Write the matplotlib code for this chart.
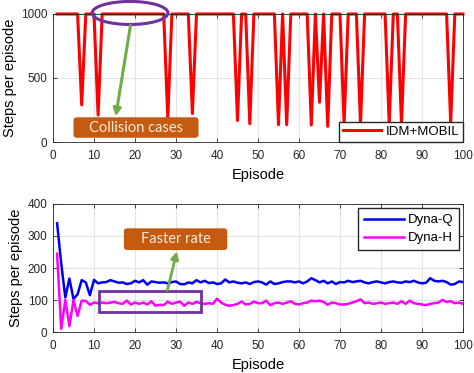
import numpy as np
import matplotlib
matplotlib.use("Agg")
import matplotlib.pyplot as plt
from matplotlib.patches import Ellipse, FancyBboxPatch, Rectangle

plt.rcParams["font.family"] = ["Liberation Sans", "DejaVu Sans"]

# top panel: IDM+MOBIL, 1000 steps unless a collision ends the episode
episodes = list(range(1, 101))
idm_mobil = [
    1000, 1000, 1000, 1000, 1000, 1000, 290, 1000, 1000, 1000,
    210, 1000, 1000, 1000, 1000, 1000, 1000, 1000, 1000, 1000,
    1000, 1000, 1000, 1000, 1000, 1000, 1000, 185, 1000, 1000,
    1000, 1000, 1000, 222, 1000, 1000, 1000, 1000, 1000, 1000,
    1000, 1000, 1000, 1000, 168, 1000, 1000, 143, 1000, 1000,
    1000, 1000, 1000, 1000, 135, 1000, 135, 1000, 1000, 1000,
    1000, 1000, 133, 1000, 310, 1000, 122, 1000, 1000, 1000,
    140, 1000, 1000, 1000, 140, 1000, 1000, 1000, 1000, 1000,
    1000, 140, 1000, 1000, 140, 1000, 1000, 1000, 1000, 1000,
    1000, 1000, 1000, 1000, 1000, 1000, 147, 1000, 1000, 1000,
]

# bottom panel
dyna_q = [
    340, 215, 108, 167, 103, 118, 162, 155, 115, 163,
    152, 155, 156, 162, 158, 154, 155, 150, 152, 160,
    155, 162, 148, 158, 156, 154, 155, 152, 156, 158,
    150, 149, 155, 152, 162, 155, 160, 153, 155, 150,
    152, 164, 155, 158, 154, 152, 155, 150, 156, 158,
    155, 148, 158, 150, 152, 156, 158, 158, 155, 158,
    152, 158, 168, 162, 155, 160, 152, 158, 150, 156,
    155, 160, 156, 158, 160, 155, 152, 156, 158, 155,
    152, 156, 158, 155, 154, 158, 156, 160, 155, 152,
    154, 168, 160, 158, 160, 156, 148, 150, 158, 156,
]
dyna_h = [
    245, 10, 100, 18, 100, 50, 98, 97, 85, 92,
    90, 92, 90, 92, 94, 90, 88, 98, 86, 92,
    88, 92, 86, 96, 82, 85, 84, 95, 88, 92,
    95, 82, 92, 88, 94, 90, 88, 90, 88, 104,
    92, 85, 82, 84, 88, 95, 86, 88, 95, 90,
    90, 98, 84, 90, 92, 88, 92, 96, 88, 86,
    90, 92, 98, 96, 98, 94, 85, 92, 90, 86,
    86, 88, 92, 96, 102, 90, 92, 88, 90, 92,
    88, 90, 92, 88, 96, 88, 98, 90, 88, 86,
    84, 88, 90, 92, 100, 94, 96, 90, 92, 88,
]

ORANGE = "#c55a11"
PURPLE = "#7030a0"
GREEN = "#70ad47"
TXT = "#fde9d9"


def style_axes(ax, yticks):
    ax.set_xlim(0, 100)
    ax.set_xticks(range(0, 101, 10))
    ax.set_yticks(yticks)
    ax.set_ylim(yticks[0], yticks[-1])
    ax.grid(True, color="#e3e3e3", lw=0.8)
    ax.set_axisbelow(True)
    ax.tick_params(direction="in", top=True, right=True, labelsize=8.5,
                   length=3, width=0.6, color="#262626", labelcolor="#262626")
    ax.tick_params(axis="x", pad=6)
    ax.tick_params(axis="y", pad=4)
    for s in ax.spines.values():
        s.set_color("#262626")
        s.set_linewidth(0.6)
    ax.set_xlabel("Episode", fontsize=10.5, labelpad=4)
    ax.set_ylabel("Steps per episode", fontsize=10.5, labelpad=3)


fig = plt.figure(figsize=(4.74, 3.73), dpi=100)
ax1 = fig.add_axes([0.1118, 0.6193, 0.865, 0.3432])
ax2 = fig.add_axes([0.1118, 0.1099, 0.865, 0.3432])

# ---- top
ax1.plot(episodes, idm_mobil, color="red", lw=2.2, label="IDM+MOBIL", clip_on=False)
style_axes(ax1, [0, 500, 1000])
ax1.legend(loc="lower right", fontsize=9.5, frameon=True, fancybox=False,
           edgecolor="#262626", framealpha=1, borderaxespad=0,
           handlelength=2.9, borderpad=0.3, handletextpad=0.3)

ax1.add_patch(Ellipse((18.8, 1008), 18.5, 180, fill=False, edgecolor=PURPLE,
                      lw=2.2, clip_on=False, zorder=5))
ax1.annotate("", xy=(15.3, 200), xytext=(18.9, 910),
             arrowprops=dict(arrowstyle="-|>", color=GREEN, lw=2.2,
                             mutation_scale=11, shrinkA=0, shrinkB=0), zorder=6)
ax1.add_patch(FancyBboxPatch((5.0, 33), 30.5, 160,
                             boxstyle="round,pad=0,rounding_size=0.8",
                             mutation_aspect=30, facecolor=ORANGE,
                             edgecolor="none", zorder=6, clip_on=False))
ax1.text(20.3, 112, "Collision cases", ha="center", va="center", color=TXT,
         fontsize=10.5, family=["Lato", "DejaVu Sans"], zorder=7)

# ---- bottom
ax2.plot(episodes, dyna_q, color="#0000ee", lw=1.8, label="Dyna-Q")
ax2.plot(episodes, dyna_h, color="#ff00ff", lw=1.8, label="Dyna-H")
style_axes(ax2, [0, 100, 200, 300, 400])
ax2.legend(loc="upper right", fontsize=9.5, frameon=True, fancybox=False,
           edgecolor="#262626", framealpha=1, borderaxespad=0.3,
           handlelength=3.0, borderpad=0.45, handletextpad=0.3, labelspacing=0.45)

ax2.add_patch(Rectangle((11.3, 62), 24.7, 66, fill=False, edgecolor=PURPLE,
                        lw=2.0, zorder=5))
ax2.annotate("", xy=(30.2, 252), xytext=(27.9, 130),
             arrowprops=dict(arrowstyle="-|>", color=GREEN, lw=2.0,
                             mutation_scale=11, shrinkA=0, shrinkB=0), zorder=6)
ax2.add_patch(FancyBboxPatch((17.3, 256), 25.2, 68,
                             boxstyle="round,pad=0,rounding_size=0.8",
                             mutation_aspect=12, facecolor=ORANGE,
                             edgecolor="none", zorder=6))
ax2.text(29.9, 290, "Faster rate", ha="center", va="center", color=TXT,
         fontsize=10.5, family=["Lato", "DejaVu Sans"], zorder=7)

fig.savefig("out.png", dpi=100)
